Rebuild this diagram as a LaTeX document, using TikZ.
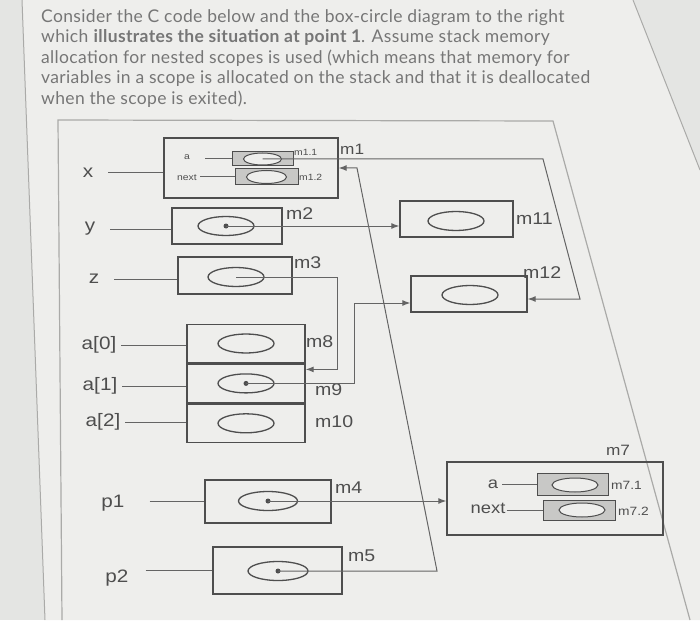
\documentclass[tikz,border=0pt]{standalone}
\usepackage{fontspec}
\setmainfont{Liberation Sans}
\newfontfamily\diagfont[FakeStretch=1.15]{Liberation Sans}
\newfontfamily\introfont[LetterSpace=2]{Lato}
\usetikzlibrary{arrows.meta,positioning,shapes.geometric,calc}
\definecolor{ink}{RGB}{78,78,78}
\definecolor{wire}{RGB}{100,100,100}
\definecolor{introgray}{RGB}{118,118,118}
\definecolor{pagegray}{RGB}{228,229,227}
\definecolor{cardgray}{RGB}{238,238,236}
\definecolor{edgegray}{RGB}{170,170,168}
\definecolor{slotgray}{RGB}{200,200,198}

\begin{document}
\begin{tikzpicture}[x=1pt,y=-1pt,
  cellbox/.style={rectangle,draw=ink,line width=1.4pt,inner sep=0pt},
  ring/.style={ellipse,draw=ink,line width=1.3pt,minimum width=56pt,minimum height=19pt,inner sep=0pt},
  tinybox/.style={rectangle,draw=ink,line width=1pt,fill=slotgray,inner sep=0pt},
  tinyring/.style={ellipse,draw=ink,line width=1pt,fill=cardgray,inner sep=0pt},
  varname/.style={font=\diagfont\fontsize{18}{18}\selectfont,text=ink,inner sep=1pt},
  mname/.style={font=\diagfont\fontsize{17}{17}\selectfont,text=ink,anchor=west,inner sep=1pt},
  tinyname/.style={font=\diagfont\fontsize{9}{9}\selectfont,text=ink,anchor=west,inner sep=1pt},
  dot/.style={circle,fill=ink,inner sep=0pt,minimum size=5pt},
  link/.style={draw=wire,line width=1pt},
  arrow/.style={link,-{Latex[length=8pt,width=6pt]}}
]
\useasboundingbox (0,0) rectangle (700,620);
% page, card and frame
\fill[pagegray] (0,0) rectangle (700,620);
\fill[cardgray] (22,0) -- (633,0) -- (700,170) -- (700,620) -- (45,620) -- cycle;
\draw[edgegray,line width=1pt] (22,0) -- (45,620);
\draw[edgegray,line width=1pt] (633,0) -- (700,170);
\draw[edgegray,line width=1.2pt] (62,620) -- (58,120) -- (553,121) -- (690,620);

\node[anchor=north west,align=left,inner sep=0pt,text=introgray,
  font=\introfont\fontsize{17.5}{20.6}\selectfont] (intro) at (41,9)
  {Consider the C code below and the box-circle diagram to the right\\
   which \textbf{illustrates the situation at point 1}. Assume stack memory\\
   allocation for nested scopes is used (which means that memory for\\
   variables in a scope is allocated on the stack and that it is deallocated\\
   when the scope is exited).};

% x : struct with a and next
\node[cellbox,minimum width=174pt,minimum height=60pt] (m1) at (251,168) {};
\node[tinybox,minimum width=61pt,minimum height=14pt] (m1a) at (262.5,159) {};
\node[tinybox,minimum width=63pt,minimum height=16pt] (m1b) at (266.5,177) {};
\node[tinyring,minimum width=38pt,minimum height=12pt] (r1a) at (m1a) {};
\node[tinyring,minimum width=40pt,minimum height=13pt] (r1b) at (m1b) {};
\node[font=\diagfont\fontsize{9}{9}\selectfont,text=ink] (fa) at (187,157) {a};
\node[font=\diagfont\fontsize{9}{9}\selectfont,text=ink] (fnext) at (187,178) {next};
\node[tinyname] (l1a) at (293,152) {m1.1};
\node[tinyname] (l1b) at (298,177) {m1.2};
\node[mname,font=\diagfont\fontsize{15}{15}\selectfont] (l1) at (339,149) {m1};
\node[varname] (vx) at (88,173) {x};
\draw[link,shorten <=12pt] (fa.east |- m1a.west) -- (m1a.west);
\draw[link] (fnext.east |- m1b.west) -- (m1b.west);
\draw[link,shorten <=14pt] (vx.east) -- (vx.east -| m1.west);

% y and z
\node[cellbox,minimum width=110pt,minimum height=36pt] (m2) at (227,226) {};
\node[ring] (r2) at (226,226) {};
\node[dot] (d2) at (r2) {};
\node[mname] (l2) at (285,214) {m2};
\node[varname] (vy) at (90,229) {y};
\draw[link,shorten <=14pt] (vy.east) -- (vy.east -| m2.west);

\node[cellbox,minimum width=114pt,minimum height=37pt] (m3) at (235,275.5) {};
\node[ring] (r3) at (236,277) {};
\node[mname] (l3) at (293,263) {m3};
\node[varname] (vz) at (94,279) {z};
\draw[link,shorten <=14pt] (vz.east) -- (vz.east -| m3.west);

% array a[3]
\node[cellbox,minimum width=118pt,minimum height=38.5pt] (m8) at (246,343.5) {};
\node[cellbox,minimum width=118pt,minimum height=38.5pt,below=0pt of m8] (m9) {};
\node[cellbox,minimum width=118pt,minimum height=38.5pt,below=0pt of m9] (m10) {};
\node[ring] (r8) at (m8) {};
\node[ring] (r9) at (m9) {};
\node[dot] (d9) at (r9) {};
\node[ring] (r10) at (m10) {};
\node[mname] (l8) at (305,342) {m8};
\node[mname] (l9) at (314,390) {m9};
\node[mname] (l10) at (314,422) {m10};
\node[varname] (va0) at (99,345) {a[0]};
\node[varname] (va1) at (100,386) {a[1]};
\node[varname] (va2) at (103,422) {a[2]};
\draw[link,shorten <=4pt] (va0.east) -- (va0.east -| m8.west);
\draw[link,shorten <=4pt] (va1.east) -- (va1.east -| m9.west);
\draw[link,shorten <=4pt] (va2.east) -- (va2.east -| m10.west);

% heap cells m11, m12
\node[cellbox,minimum width=113pt,minimum height=36pt] (m11) at (456.5,219) {};
\node[ring] (r11) at (456,221) {};
\node[mname] (l11) at (515,219) {m11};
\node[cellbox,minimum width=116pt,minimum height=36pt] (m12) at (469,294) {};
\node[ring] (r12) at (470,295) {};
\node[mname] (l12) at (522,273) {m12};

% p1 and p2
\node[cellbox,minimum width=126pt,minimum height=43pt] (m4) at (268,501.5) {};
\node[ring,minimum width=59pt] (r4) at (268,501) {};
\node[dot] (d4) at (r4) {};
\node[mname] (l4) at (334,488) {m4};
\node[varname] (vp1) at (113,503) {p1};
\draw[link,shorten <=24pt] (vp1.east |- m4.west) -- (m4.west);

\node[cellbox,minimum width=129pt,minimum height=47pt] (m5) at (277.5,570.5) {};
\node[ring,minimum width=60pt] (r5) at (278,571) {};
\node[dot] (d5) at (r5) {};
\node[mname] (l5) at (347,556) {m5};
\node[varname] (vp2) at (117,578) {p2};
\draw[link,shorten <=16pt] (vp2.east |- m5.west) -- (m5.west);

% struct m7
\node[cellbox,minimum width=216pt,minimum height=73pt] (m7) at (555,498.5) {};
\node[tinybox,minimum width=71pt,minimum height=22pt] (m7a) at (572.5,484) {};
\node[tinybox,minimum width=72pt,minimum height=20pt] (m7b) at (579,510) {};
\node[tinyring,minimum width=46pt,minimum height=14pt] (r7a) at (575,485) {};
\node[tinyring,minimum width=46pt,minimum height=14pt] (r7b) at (582,510) {};
\node[varname,font=\diagfont\fontsize{16}{16}\selectfont] (ha) at (493,484) {a};
\node[varname,font=\diagfont\fontsize{16}{16}\selectfont] (hnext) at (488,508) {next};
\node[mname,font=\diagfont\fontsize{15}{15}\selectfont,anchor=center] (l7) at (618,450) {m7};
\node[tinyname,font=\diagfont\fontsize{12}{12}\selectfont] (l7a) at (610,485) {m7.1};
\node[tinyname,font=\diagfont\fontsize{12}{12}\selectfont] (l7b) at (617,511) {m7.2};
\draw[link,shorten <=3pt] (ha.east |- m7a.west) -- (m7a.west);
\draw[link] (hnext.east |- m7b.west) -- (m7b.west);

% pointers
\coordinate (m12back) at ($(m12.east)+(0,5)$);
\coordinate (m12in) at ($(m12.west)+(0,9)$);
\coordinate (m9in) at ($(m9.east)+(0,-14)$);
\coordinate (m1aturn) at (543,159);
\coordinate (m12turn) at (580,299);
\coordinate (m5turn) at (437,571);
\coordinate (m1turn) at (357,168);
\draw[arrow] (r1a.center) -- (m1aturn) -- (m12turn) -- (m12back);
\draw[arrow] (r2.center) -- (r2.center -| m11.west);
\draw[arrow] (r3.center) -| ($(m9in)+(32,0)$) -- (m9in);
\draw[arrow] (r9.center) -| ($(m12in)+(-56,0)$) -- (m12in);
\draw[arrow] (r4.center) -- (r4.center -| m7.west);
\draw[arrow] (r5.center) -- (m5turn) -- (m1turn) -- (m1turn -| m1.east);
\end{tikzpicture}
\end{document}
